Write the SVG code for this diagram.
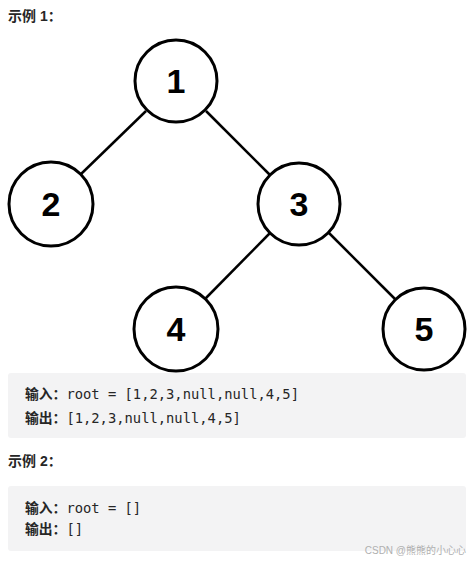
<svg xmlns="http://www.w3.org/2000/svg" width="474" height="561" viewBox="0 0 474 561">
<style>
.node circle{fill:#fff;stroke:#000;stroke-width:3}
.node text{font-family:"Liberation Sans",Arial,sans-serif;font-weight:bold;font-size:34px;text-anchor:middle;fill:#000}
.edges line{stroke:#000;stroke-width:2.5}
.h{font-family:"Liberation Sans","Noto Sans CJK SC",sans-serif;font-weight:bold;font-size:14px;fill:#262626}
.box{fill:#f3f3f4}
.code{font-family:"DejaVu Sans Mono","Noto Sans CJK SC",monospace;font-size:13.8px;fill:#262626}
.code .b{font-family:"Noto Sans CJK SC",sans-serif;font-weight:bold}
.wm{font-family:"Liberation Sans","Noto Sans CJK SC",sans-serif;font-size:10px;fill:#b0b0b0;text-anchor:end}
</style>
<rect width="474" height="561" fill="#fff"/>
<text class="h" x="8" y="21">示例 1：</text>
<g class="edges">
<line x1="146" y1="111" x2="80" y2="175"/>
<line x1="206" y1="111" x2="270" y2="175"/>
<line x1="270" y1="233" x2="205" y2="299"/>
<line x1="329" y1="233" x2="395" y2="299"/>
</g>
<g id="n1" class="node"><circle cx="176" cy="81" r="41"/><text x="176" y="93">1</text></g>
<g id="n2" class="node"><circle cx="51" cy="204" r="42"/><text x="51" y="216">2</text></g>
<g id="n3" class="node"><circle cx="299" cy="204" r="41"/><text x="299" y="216">3</text></g>
<g id="n4" class="node"><circle cx="176" cy="329" r="42"/><text x="176" y="341">4</text></g>
<g id="n5" class="node"><circle cx="424" cy="329" r="41"/><text x="424" y="341">5</text></g>
<rect class="box" x="8" y="373" width="458" height="65" rx="3"/>
<text class="code" x="25" y="399"><tspan class="b">输入：</tspan>root = [1,2,3,null,null,4,5]</text>
<text class="code" x="25" y="423"><tspan class="b">输出：</tspan>[1,2,3,null,null,4,5]</text>
<text class="h" x="8" y="466">示例 2：</text>
<rect class="box" x="8" y="486" width="458" height="65" rx="3"/>
<text class="code" x="25" y="513"><tspan class="b">输入：</tspan>root = []</text>
<text class="code" x="25" y="534"><tspan class="b">输出：</tspan>[]</text>
<text class="wm" x="466" y="554">CSDN @熊熊的小心心</text>
</svg>
